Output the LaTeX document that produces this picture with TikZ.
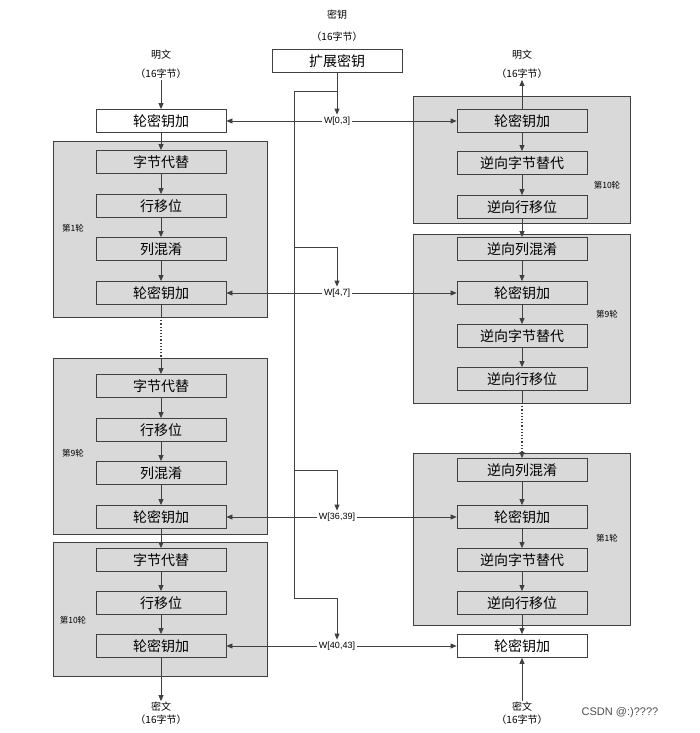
\documentclass[tikz,border=0pt]{standalone}
\usepackage{fontspec}
\setmainfont{Liberation Sans}
\newfontfamily\cjk{Noto Sans CJK SC}
\usetikzlibrary{arrows.meta}
\begin{document}
\begin{tikzpicture}[x=1pt,y=-1pt,
  box/.style={draw=black!75,fill=black!15,line width=0.8pt,minimum width=130pt,minimum height=23pt,inner sep=0pt,font=\cjk\fontsize{14}{14}\selectfont},
  wbox/.style={box,fill=white},
  round/.style={draw=black!75,fill=black!15,line width=0.8pt},
  lab/.style={font=\cjk\fontsize{10}{10}\selectfont,inner sep=1pt},
  rl/.style={font=\cjk\fontsize{8.5}{8.5}\selectfont,inner sep=1pt},
  wl/.style={font=\fontsize{9}{9}\selectfont,fill=white,inner sep=2pt},
  ar/.style={-{Triangle[length=6pt,width=5pt]},line width=0.8pt,draw=black!75},
  ln/.style={line width=0.8pt,draw=black!75},
  dt/.style={line width=1.2pt,draw=black!75,dotted}]
\useasboundingbox (0,0) rectangle (700,733);
% round frames
\draw[round] (53,141) rectangle (267,317);
\draw[round] (53,358) rectangle (267,534);
\draw[round] (53,542) rectangle (267,676);
\draw[round] (413,96) rectangle (630,223);
\draw[round] (413,234) rectangle (630,403);
\draw[round] (413,453) rectangle (630,625);
\node[rl] at (73,228) {第1轮};
\node[rl] at (73,453) {第9轮};
\node[rl] at (73,620) {第10轮};
\node[rl] at (607,185) {第10轮};
\node[rl] at (607,314) {第9轮};
\node[rl] at (607,538) {第1轮};
% labels
\node[lab] (ptl) at (161,55) {明文};
\node[lab] (ptl2) at (161,74) {（16字节）};
\node[lab] (ptr) at (522,55) {明文};
\node[lab] (ptr2) at (522,74) {（16字节）};
\node[lab] at (337,15) {密钥};
\node[lab] at (337,37) {（16字节）};
\node[lab] (ctl) at (161,707) {密文};
\node[lab] at (161,720) {（16字节）};
\node[lab] (ctr) at (522,707) {密文};
\node[lab] at (522,720) {（16字节）};
\node[font=\fontsize{11}{11}\selectfont,text=black!70] at (620,713) {CSDN @:)????};
% key box
\node[wbox] (key) at (337,61) {扩展密钥};
% left boxes
\node[wbox] (L0) at (161,121) {轮密钥加};
\node[box] (L1) at (161,162) {字节代替};
\node[box] (L2) at (161,206) {行移位};
\node[box] (L3) at (161,249) {列混淆};
\node[box] (L4) at (161,293) {轮密钥加};
\node[box] (L5) at (161,386) {字节代替};
\node[box] (L6) at (161,430) {行移位};
\node[box] (L7) at (161,473) {列混淆};
\node[box] (L8) at (161,517) {轮密钥加};
\node[box] (L9) at (161,560) {字节代替};
\node[box] (L10) at (161,603) {行移位};
\node[box] (L11) at (161,646) {轮密钥加};
% right boxes
\node[box] (R0) at (522,121) {轮密钥加};
\node[box] (R1) at (522,163) {逆向字节替代};
\node[box] (R2) at (522,207) {逆向行移位};
\node[box] (R3) at (522,249) {逆向列混淆};
\node[box] (R4) at (522,293) {轮密钥加};
\node[box] (R5) at (522,336) {逆向字节替代};
\node[box] (R6) at (522,379) {逆向行移位};
\node[box] (R7) at (522,470) {逆向列混淆};
\node[box] (R8) at (522,517) {轮密钥加};
\node[box] (R9) at (522,560) {逆向字节替代};
\node[box] (R10) at (522,603) {逆向行移位};
\node[wbox] (R11) at (522,646) {轮密钥加};
% left chain
\draw[ar] (ptl2) -- (L0);
\foreach \a/\b in {L0/L1,L1/L2,L2/L3,L3/L4,L5/L6,L6/L7,L7/L8,L8/L9,L9/L10,L10/L11}
  \draw[ar] (\a) -- (\b);
\coordinate (d1) at (161,317); \coordinate (d2) at (161,358);
\draw[ln] (L4) -- (d1); \draw[dt] (d1) -- (d2); \draw[ar] (d2) -- (L5);
\draw[ar] (L11) -- (ctl);
% right chain
\draw[ar] (R0) -- (ptr2);
\foreach \a/\b in {R0/R1,R1/R2,R2/R3,R3/R4,R4/R5,R5/R6,R7/R8,R8/R9,R9/R10,R10/R11}
  \draw[ar] (\a) -- (\b);
\coordinate (e1) at (522,403); \coordinate (e2) at (522,453);
\draw[ln] (R6) -- (e1); \draw[dt] (e1) -- (e2); \draw[ar] (e2) -- (R7);
\draw[ar] (ctr) -- (R11);
% key schedule
\node[wl] (W0) at (337,121) {W[0,3]};
\node[wl] (W1) at (337,293) {W[4,7]};
\node[wl] (W2) at (337,517) {W[36,39]};
\node[wl] (W3) at (337,646) {W[40,43]};
\coordinate (k0) at (337,91); \coordinate (s0) at (294,91);
\coordinate (s1) at (294,247); \coordinate (t1) at (337,247);
\coordinate (s2) at (294,470); \coordinate (t2) at (337,470);
\coordinate (s3) at (294,598); \coordinate (t3) at (337,598);
\draw[ln] (key) -- (k0) -- (s0) -- (s3);
\draw[ar] (k0) -- (W0);
\draw[ar] (s1) -- (t1) -- (W1);
\draw[ar] (s2) -- (t2) -- (W2);
\draw[ar] (s3) -- (t3) -- (W3);
\foreach \w/\l/\r in {W0/L0/R0,W1/L4/R4,W2/L8/R8,W3/L11/R11}{
  \draw[ar] (\w) -- (\l); \draw[ar] (\w) -- (\r);}
\end{tikzpicture}
\end{document}
